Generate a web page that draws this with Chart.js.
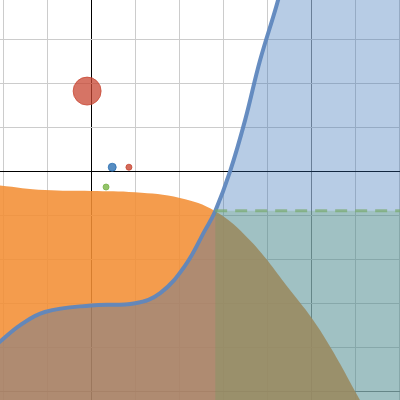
<!DOCTYPE html>
<html><head><style>html,body{margin:0;padding:0;background:#fff}</style>
<script src="https://cdn.jsdelivr.net/npm/chart.js@4"></script></head>
<body><canvas id="c" width="400" height="400"></canvas>
<script>
const blueX=[-2.1,-1.61,-1.05,0,1,1.57,2.14,2.59,2.82,3.16,3.5,3.84,4.25,4.52,7.2];
const blueY=[-3.9,-3.5,-3.2,-3.05,-3.0,-2.77,-2.14,-1.34,-0.91,0,1.16,2.52,3.89,5,5];
const orangeX=[-2.1,-1.05,0,1,2.02,2.82,3.61,4.52,5.2,6.11,6.34];
const orangeY=[-0.32,-0.43,-0.45,-0.48,-0.61,-0.91,-1.57,-2.7,-3.61,-5.2,-5.66];
const greenX=[2.82,7.2];
const greenY=[-0.9,-0.9];
const ptsX=[-0.09,0.86,0.48,0.34];
const ptsY=[1.82,0.09,0.09,-0.36];
const ptsR=[14,3,4,3];
const ptsC=['rgba(200,70,50,0.75)','rgba(200,70,50,0.8)','rgba(45,112,179,0.8)','rgba(120,180,70,0.8)'];
const zip=(a,b)=>a.map((x,i)=>({x,y:b[i]}));
const gridColor=c=>{const v=c.tick&&c.tick.value;if(v===0)return '#000';if(Math.abs(v)===5)return '#888';return '#ccc';};
const intTicks=s=>{const t=[];for(let v=Math.ceil(s.min);v<=Math.floor(s.max);v++)t.push({value:v});s.ticks=t;};
new Chart(document.getElementById('c'),{
 type:'scatter',
 data:{datasets:[
  {data:zip(ptsX,ptsY),pointRadius:ptsR,backgroundColor:ptsC,borderColor:ptsC,showLine:false,order:0},
  {data:zip(greenX,greenY),showLine:true,borderColor:'rgba(120,170,110,0.7)',borderWidth:3,borderDash:[12,8],backgroundColor:'rgba(90,160,90,0.25)',fill:'start',pointRadius:0,order:1},
  {data:zip(blueX,blueY),showLine:true,borderColor:'rgba(95,135,190,0.95)',borderWidth:4,backgroundColor:'rgba(50,110,180,0.35)',fill:'start',pointRadius:0,tension:0.4,order:2},
  {data:zip(orangeX,orangeY),showLine:true,borderColor:'rgba(0,0,0,0)',borderWidth:0,backgroundColor:'rgba(243,142,52,0.88)',fill:'start',pointRadius:0,tension:0.4,order:3}
 ]},
 options:{responsive:false,animation:false,devicePixelRatio:1,layout:{padding:0,autoPadding:false},
  plugins:{legend:{display:false},tooltip:{enabled:false}},
  scales:{
   x:{type:'linear',min:-2.07,max:7.02,ticks:{display:false},border:{display:false},grid:{color:gridColor,drawTicks:false},afterBuildTicks:intTicks},
   y:{type:'linear',min:-5.2,max:3.89,ticks:{display:false},border:{display:false},grid:{color:gridColor,drawTicks:false},afterBuildTicks:intTicks}
  }}
});
</script></body></html>
